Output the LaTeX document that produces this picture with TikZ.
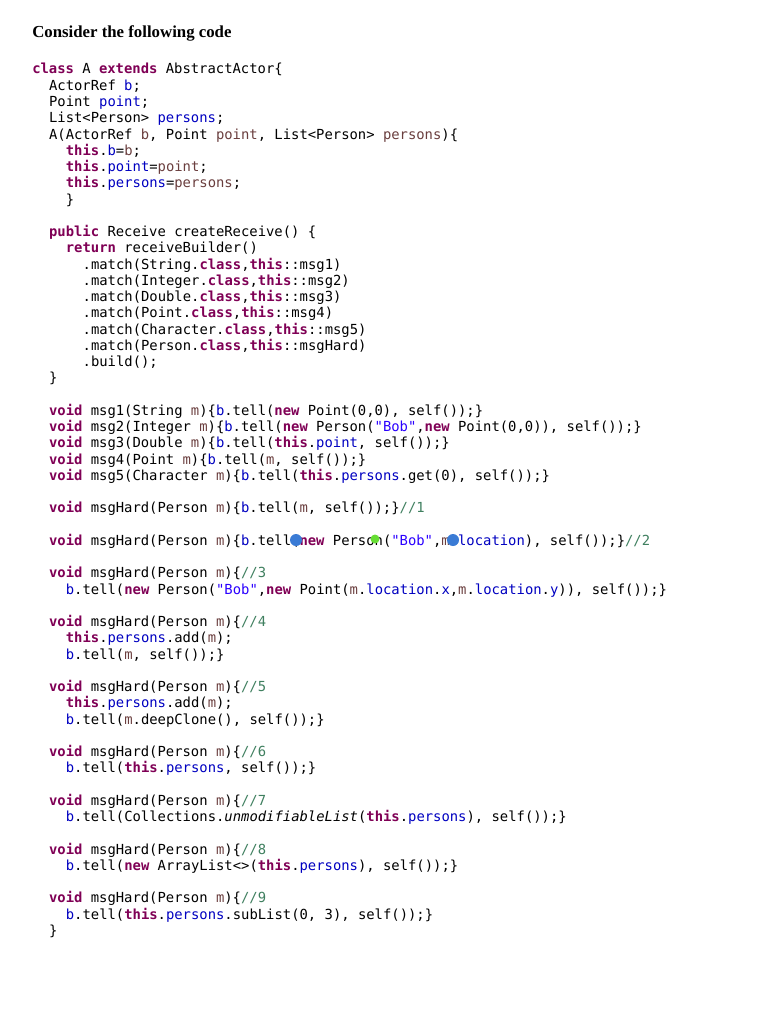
\documentclass[tikz,border=0pt]{standalone}
\usepackage{fontspec}
\setmainfont{Liberation Serif}
\setmonofont{DejaVu Sans Mono}
\definecolor{kwc}{HTML}{7F0055}
\definecolor{fdc}{HTML}{0000C0}
\definecolor{pac}{HTML}{6A3E3E}
\definecolor{cmc}{HTML}{3F7F5F}
\definecolor{stc}{HTML}{2A00FF}
\newcommand\kw[1]{\textcolor{kwc}{\bfseries #1}}
\newcommand\fd[1]{\textcolor{fdc}{#1}}
\newcommand\pa[1]{\textcolor{pac}{#1}}
\newcommand\cm[1]{\textcolor{cmc}{#1}}
\newcommand\stt[1]{\textcolor{stc}{#1}}
\newcommand\cl[3]{\node[code] (l#1) at ({32+8.4*#2},{74+16.25*(#1-1)}) {#3};}
\begin{document}
\begin{tikzpicture}[x=0.75pt,y=-0.75pt,
  code/.style={anchor=base west,inner sep=0pt,font=\ttfamily\fontsize{10.4pt}{12pt}\selectfont}]
\useasboundingbox (0,0) rectangle (759,1024);
\node[anchor=base west,inner sep=0pt,font=\bfseries\fontsize{12.6pt}{14pt}\selectfont] (title) at (32,38) {Consider the following code};
\cl{1}{0}{\kw{class} A \kw{extends} AbstractActor\{}
\cl{2}{2}{ActorRef \fd{b};}
\cl{3}{2}{Point \fd{point};}
\cl{4}{2}{List<Person> \fd{persons};}
\cl{5}{2}{A(ActorRef \pa{b}, Point \pa{point}, List<Person> \pa{persons})\{}
\cl{6}{4}{\kw{this}.\fd{b}=\pa{b};}
\cl{7}{4}{\kw{this}.\fd{point}=\pa{point};}
\cl{8}{4}{\kw{this}.\fd{persons}=\pa{persons};}
\cl{9}{4}{\}}
\cl{11}{2}{\kw{public} Receive createReceive() \{}
\cl{12}{4}{\kw{return} receiveBuilder()}
\cl{13}{6}{.match(String.\kw{class},\kw{this}::msg1)}
\cl{14}{6}{.match(Integer.\kw{class},\kw{this}::msg2)}
\cl{15}{6}{.match(Double.\kw{class},\kw{this}::msg3)}
\cl{16}{6}{.match(Point.\kw{class},\kw{this}::msg4)}
\cl{17}{6}{.match(Character.\kw{class},\kw{this}::msg5)}
\cl{18}{6}{.match(Person.\kw{class},\kw{this}::msgHard)}
\cl{19}{6}{.build();}
\cl{20}{2}{\}}
\cl{22}{2}{\kw{void} msg1(String \pa{m})\{\fd{b}.tell(\kw{new} Point(0,0), self());\}}
\cl{23}{2}{\kw{void} msg2(Integer \pa{m})\{\fd{b}.tell(\kw{new} Person(\stt{"Bob"},\kw{new} Point(0,0)), self());\}}
\cl{24}{2}{\kw{void} msg3(Double \pa{m})\{\fd{b}.tell(\kw{this}.\fd{point}, self());\}}
\cl{25}{2}{\kw{void} msg4(Point \pa{m})\{\fd{b}.tell(\pa{m}, self());\}}
\cl{26}{2}{\kw{void} msg5(Character \pa{m})\{\fd{b}.tell(\kw{this}.\fd{persons}.get(0), self());\}}
\cl{28}{2}{\kw{void} msgHard(Person \pa{m})\{\fd{b}.tell(\pa{m}, self());\}\cm{//1}}
\cl{30}{2}{\kw{void} msgHard(Person \pa{m})\{\fd{b}.tell(\kw{new} Person(\stt{"Bob"},\pa{m}.\fd{location}), self());\}\cm{//2}}
\cl{32}{2}{\kw{void} msgHard(Person \pa{m})\{\cm{//3}}
\cl{33}{4}{\fd{b}.tell(\kw{new} Person(\stt{"Bob"},\kw{new} Point(\pa{m}.\fd{location}.\fd{x},\pa{m}.\fd{location}.\fd{y})), self());\}}
\cl{35}{2}{\kw{void} msgHard(Person \pa{m})\{\cm{//4}}
\cl{36}{4}{\kw{this}.\fd{persons}.add(\pa{m});}
\cl{37}{4}{\fd{b}.tell(\pa{m}, self());\}}
\cl{39}{2}{\kw{void} msgHard(Person \pa{m})\{\cm{//5}}
\cl{40}{4}{\kw{this}.\fd{persons}.add(\pa{m});}
\cl{41}{4}{\fd{b}.tell(\pa{m}.deepClone(), self());\}}
\cl{43}{2}{\kw{void} msgHard(Person \pa{m})\{\cm{//6}}
\cl{44}{4}{\fd{b}.tell(\kw{this}.\fd{persons}, self());\}}
\cl{46}{2}{\kw{void} msgHard(Person \pa{m})\{\cm{//7}}
\cl{47}{4}{\fd{b}.tell(Collections.\textit{unmodifiableList}(\kw{this}.\fd{persons}), self());\}}
\cl{49}{2}{\kw{void} msgHard(Person \pa{m})\{\cm{//8}}
\cl{50}{4}{\fd{b}.tell(\kw{new} ArrayList<>(\kw{this}.\fd{persons}), self());\}}
\cl{52}{2}{\kw{void} msgHard(Person \pa{m})\{\cm{//9}}
\cl{53}{4}{\fd{b}.tell(\kw{this}.\fd{persons}.subList(0, 3), self());\}}
\cl{54}{2}{\}}
\fill[color={rgb,255:red,58;green,123;blue,213}] (296,540) circle (6);
\fill[color={rgb,255:red,102;green,221;blue,51}] (375,539) circle (4.5);
\fill[color={rgb,255:red,58;green,123;blue,213}] (453,540) circle (6);
\end{tikzpicture}
\end{document}
